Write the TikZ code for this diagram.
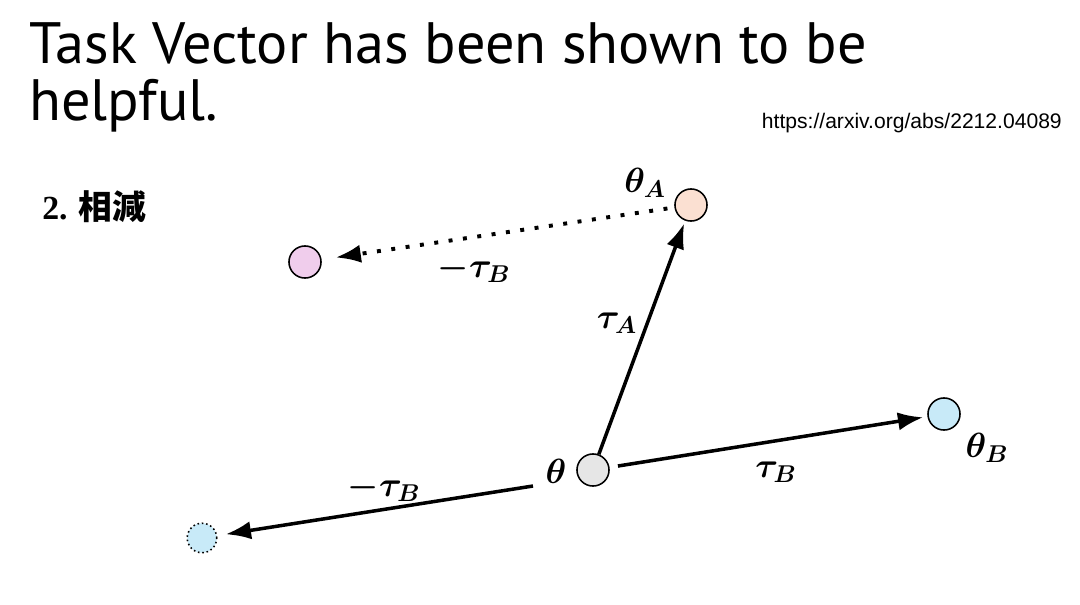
\documentclass[tikz,border=0pt]{standalone}
\usepackage{fontspec}
\usepackage{bm}
\usetikzlibrary{arrows.meta}
\newfontfamily\titlefont{PT Sans}
\newfontfamily\urlfont{Liberation Sans}
\newfontfamily\numfont{Liberation Serif}
\newfontfamily\cjk{Noto Sans CJK TC}
\definecolor{cgray}{HTML}{E6E6E6}
\definecolor{cpeach}{HTML}{FBE0D2}
\definecolor{cblue}{HTML}{C8EAF8}
\definecolor{cpink}{HTML}{F0CDEC}
\tikzset{
  pt/.style={circle, draw=black, line width=1.1pt, minimum size=22.8pt, inner sep=0pt},
  ghost/.style={circle, draw=black, line width=1.1pt, dotted, minimum size=21pt, inner sep=0pt},
  vec/.style={line width=2.5pt, -{Latex[length=18pt,width=13pt]}},
  dvec/.style={line width=2.8pt, dash pattern=on 2.8pt off 7.5pt, -{Latex[length=18pt,width=13pt]}},
  lab/.style={font=\fontsize{25}{30}\selectfont, inner sep=0pt},
}
\begin{document}
\begin{tikzpicture}[x=0.025cm, y=-0.025cm]
\useasboundingbox (0,0) rectangle (1080,605);
% title
\node[anchor=base west, inner sep=0pt, font=\titlefont\fontsize{41.5}{48}\selectfont] (t1) at (29,63) {Task Vector has been shown to be};
\node[anchor=base west, inner sep=0pt, font=\titlefont\fontsize{41.5}{48}\selectfont] (t2) at (29,120) {helpful.};
\node[anchor=base east, inner sep=0pt, font=\urlfont\fontsize{15}{18}\selectfont] (url) at (1062,128) {https://arxiv.org/abs/2212.04089};
\node[anchor=west, inner sep=0pt, font=\fontsize{24}{28}\selectfont] (head) at (42,207) {\numfont\bfseries 2. \cjk\bfseries 相減};
% points
\node[pt, fill=cgray] (th) at (593,470) {};
\node[pt, fill=cpeach] (ta) at (691,205) {};
\node[pt, fill=cblue] (tb) at (944,414) {};
\node[pt, fill=cpink] (pk) at (305,262) {};
\node[ghost, fill=cblue] (gb) at (202,538) {};
\coordinate (ms) at (533,486);
% arrows
\draw[vec, shorten >=2pt] (th) -- (ta);
\draw[vec, shorten <=6pt, shorten >=3pt] (th) -- (tb);
\draw[vec, shorten >=6pt] (ms) -- (gb);
\draw[dvec, shorten <=5pt, shorten >=10pt] (ta) -- (pk);
% labels
\node[lab] (lta) at (645,183) {$\bm{\theta_A}$};
\node[lab] (ltb) at (987,448) {$\bm{\theta_B}$};
\node[lab] (lth) at (556,471) {$\bm{\theta}$};
\node[lab] (lτa) at (617,323) {$\bm{\tau_A}$};
\node[lab] (lτb) at (776,472) {$\bm{\tau_B}$};
\node[lab] (lmb) at (384,488) {$\bm{-\tau_B}$};
\node[lab] (ldb) at (474,269) {$\bm{-\tau_B}$};
\end{tikzpicture}
\end{document}
